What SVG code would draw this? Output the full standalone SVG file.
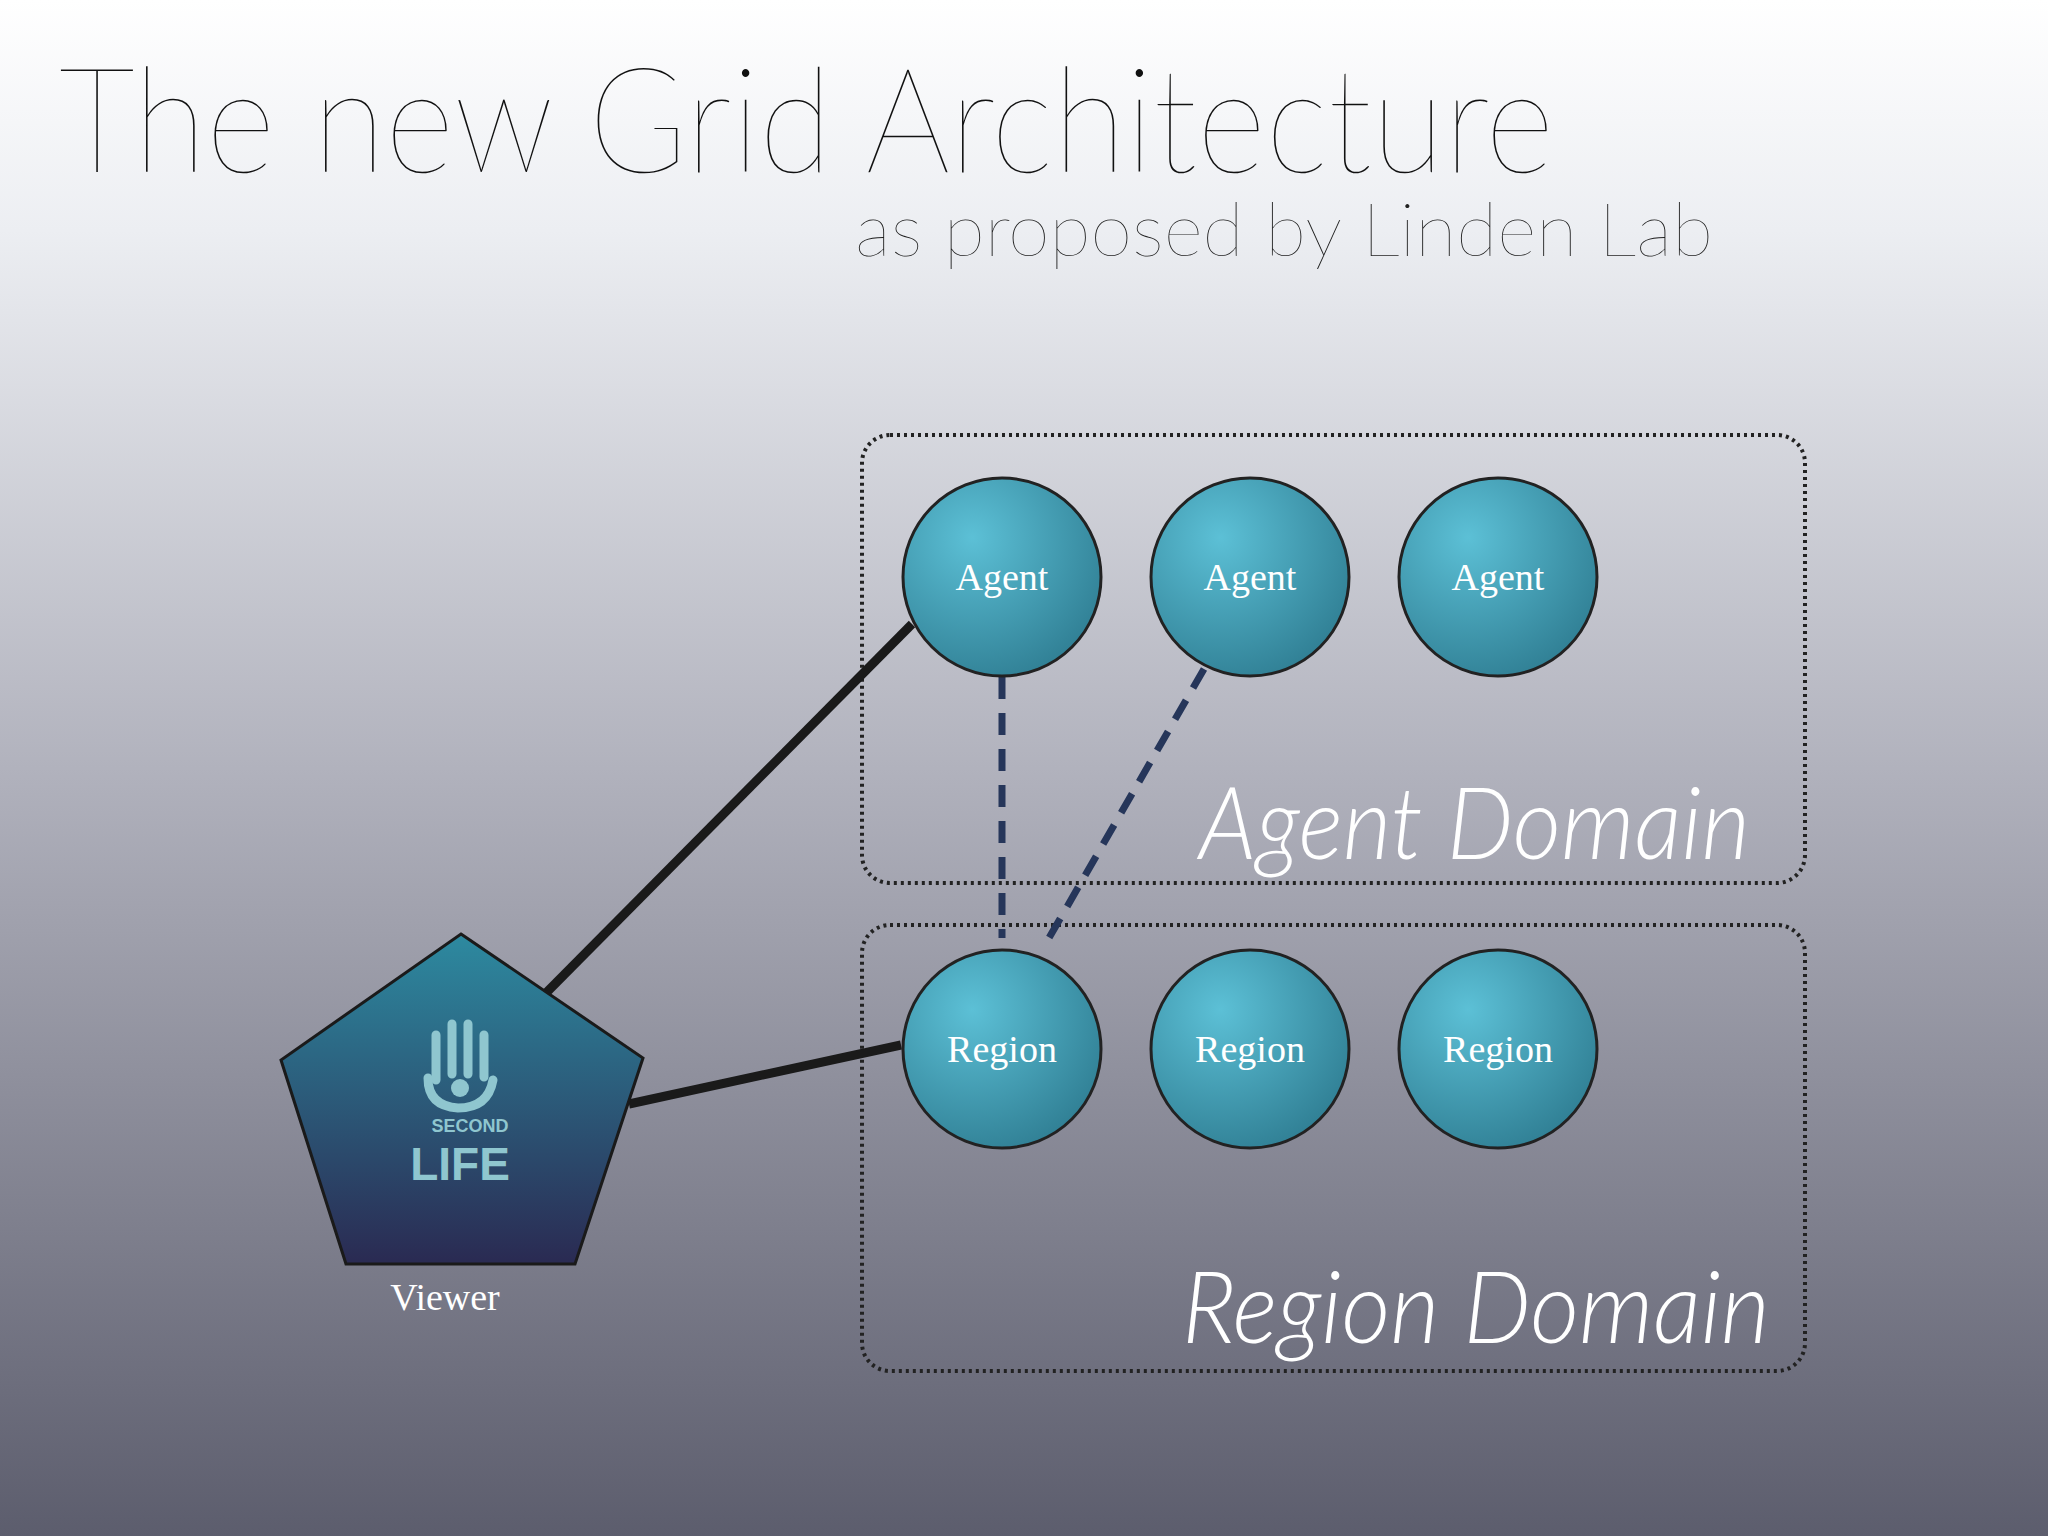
<svg xmlns="http://www.w3.org/2000/svg" width="2048" height="1536" viewBox="0 0 2048 1536">
<defs>
<linearGradient id="bg" x1="0" y1="0" x2="0" y2="1">
<stop offset="0" stop-color="#ffffff"/><stop offset="0.15" stop-color="#eceef2"/><stop offset="0.5" stop-color="#b1b2bd"/><stop offset="1" stop-color="#5c5d6d"/>
</linearGradient>
<radialGradient id="cg" cx="0.35" cy="0.3" r="0.8">
<stop offset="0" stop-color="#5cc0d6"/><stop offset="1" stop-color="#2e7c91"/>
</radialGradient>
<linearGradient id="pg" x1="0" y1="0" x2="0" y2="1">
<stop offset="0" stop-color="#2d8aa0"/><stop offset="1" stop-color="#2a2a52"/>
</linearGradient>
<style>
.dom{fill:none;stroke:#222;stroke-width:4;stroke-dasharray:3 4}
.node{fill:url(#cg);stroke:#222;stroke-width:3}
.nl{font-family:"Liberation Serif",serif;font-size:38px;fill:#fff;text-anchor:middle}
.dl{font-family:"Lato","Liberation Sans",sans-serif;font-weight:300;font-style:italic;font-size:100px;fill:#fff}
</style>
</defs>
<rect width="2048" height="1536" fill="url(#bg)"/>
<text x="59" y="172" font-family="Lato,'Liberation Sans',sans-serif" font-weight="100" font-size="146" fill="#111" textLength="1495" lengthAdjust="spacingAndGlyphs">The new Grid Architecture</text>
<text x="855" y="256" font-family="Lato,'Liberation Sans',sans-serif" font-weight="100" font-size="74" fill="#222" textLength="858" lengthAdjust="spacingAndGlyphs">as proposed by Linden Lab</text>
<rect class="dom" x="862" y="435" width="943" height="448" rx="28"/>
<rect class="dom" x="862" y="925" width="943" height="446" rx="28"/>
<text class="dl" x="1199" y="859" textLength="551" lengthAdjust="spacingAndGlyphs">Agent Domain</text>
<text class="dl" x="1182" y="1343" textLength="588" lengthAdjust="spacingAndGlyphs">Region Domain</text>
<g id="connectors">
<line x1="546" y1="993" x2="912" y2="624" stroke="#1a1a1a" stroke-width="9"/>
<line x1="629" y1="1104" x2="901" y2="1045" stroke="#1a1a1a" stroke-width="9"/>
<line x1="1002" y1="677" x2="1002" y2="938" stroke="#26365a" stroke-width="7" stroke-dasharray="22 14"/>
<line x1="1204" y1="669" x2="1049" y2="938" stroke="#26365a" stroke-width="7" stroke-dasharray="22 14"/>
</g>
<g id="agent1"><circle class="node" cx="1002" cy="577" r="99"/><text class="nl" x="1002" y="590">Agent</text></g>
<g id="agent2"><circle class="node" cx="1250" cy="577" r="99"/><text class="nl" x="1250" y="590">Agent</text></g>
<g id="agent3"><circle class="node" cx="1498" cy="577" r="99"/><text class="nl" x="1498" y="590">Agent</text></g>
<g id="region1"><circle class="node" cx="1002" cy="1049" r="99"/><text class="nl" x="1002" y="1062">Region</text></g>
<g id="region2"><circle class="node" cx="1250" cy="1049" r="99"/><text class="nl" x="1250" y="1062">Region</text></g>
<g id="region3"><circle class="node" cx="1498" cy="1049" r="99"/><text class="nl" x="1498" y="1062">Region</text></g>
<g id="viewer">
<polygon points="461,934 643,1058 575,1264 346,1264 281,1060" fill="url(#pg)" stroke="#1a1a1a" stroke-width="3"/>
<g fill="none" stroke="#8fc6cf" stroke-width="9" stroke-linecap="round">
<path d="M436 1035 v45 M452 1024 v50 M468 1024 v50 M484 1035 v42"/>
<path d="M428 1078 q0 28 30 30 q30 0 35 -28"/>
</g>
<circle cx="460" cy="1088" r="9" fill="#8fc6cf"/>
<text x="470" y="1132" font-family="'Liberation Sans',sans-serif" font-weight="bold" font-size="18" fill="#8fc6cf" text-anchor="middle">SECOND</text>
<text x="460" y="1180" font-family="'Liberation Sans',sans-serif" font-weight="bold" font-size="46" fill="#8fc6cf" text-anchor="middle">LIFE</text>
<text x="445" y="1310" font-family="'Liberation Serif',serif" font-size="38" fill="#fff" text-anchor="middle">Viewer</text>
</g>
</svg>
